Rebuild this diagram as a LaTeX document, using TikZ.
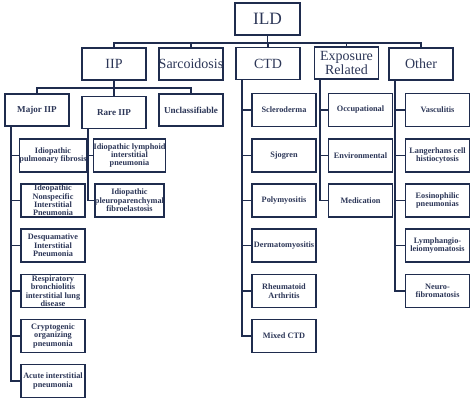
\documentclass[tikz,border=0pt]{standalone}
\usepackage{fontspec}
\setmainfont{Liberation Serif}
\definecolor{navy}{HTML}{1F2C4E}
\definecolor{ink}{HTML}{2C3657}
\tikzstyle{edge} = [draw, navy, line width=1.3pt, -]
\tikzstyle{box} = [draw=navy, line width=1.3pt, text=ink, inner sep=0pt, align=center]
\tikzstyle{rootbox} = [box, minimum width=48.75pt, minimum height=24pt, font=\fontsize{13}{15}\selectfont]
\tikzstyle{groupbox} = [box, minimum width=48pt, minimum height=24pt, font=\fontsize{10.5}{11}\selectfont]
\tikzstyle{subbox} = [box, minimum width=48pt, minimum height=24pt, font=\bfseries\fontsize{6.8}{8}\selectfont]
\tikzstyle{leaf} = [box, minimum width=48pt, minimum height=24.75pt, font=\bfseries\fontsize{6.2}{6.3}\selectfont]
% the leaves, one list per parent
\def\majorKids{{(53,155.5)/ipf/Idiopathic\\pulmonary fibrosis}, {(53,200.5)/nsip/Ideopathic\\Nonspecific\\Interstitial\\Pneumonia}, {(53,245.5)/dip/Desquamative\\Interstitial\\Pneumonia}, {(53,291)/rbild/Respiratory\\bronchiolitis\\interstitial lung\\disease}, {(53,336)/cop/Cryptogenic\\organizing\\pneumonia}, {(53,381)/aip/Acute interstitial\\pneumonia}}
\def\rareKids{{(129.5,155.5)/lip/Idiopathic lymphoid\\interstitial\\pneumonia}, {(129.5,200.5)/ppfe/Idiopathic\\pleuroparenchymal\\fibroelastosis}}
\def\ctdKids{{(284,110)/scl/Scleroderma}, {(284,155.5)/sjo/Sjogren}, {(284,200.5)/poly/Polymyositis}, {(284,245.5)/derm/Dermatomyositis}, {(284,291)/ra/Rheumatoid\\Arthritis}, {(284,336)/mctd/Mixed CTD}}
\def\expoKids{{(360.5,110)/occ/Occupational}, {(360.5,155.5)/env/Environmental}, {(360.5,200.5)/med/Medication}}
\def\otherKids{{(437.5,110)/vasc/Vasculitis}, {(437.5,155.5)/lch/Langerhans cell\\histiocytosis}, {(437.5,200.5)/eos/Eosinophilic\\pneumonias}, {(437.5,245.5)/lam/Lymphangio-\\leiomyomatosis}, {(437.5,291)/nf/Neuro-\\fibromatosis}}

\begin{document}
\begin{tikzpicture}[x=0.75pt, y=-0.75pt]
  \useasboundingbox (0,0) rectangle (474,403);

  % The root and the five groups
  \node[rootbox] (ild) at (267.5,19) {ILD};
  \foreach \pos/\name/\txt in {{(114,64)/iip/IIP}, {(191,64)/sarc/Sarcoidosis}, {(268,63.5)/ctd/CTD}, {(346.5,63)/expo/Exposure\\Related}, {(421,64)/other/Other}} {
    \node[groupbox] (\name) at \pos {\txt};
  }

  % The three kinds of IIP
  \foreach \pos/\name/\txt in {{(37,110)/major/Major IIP}, {(114,112.5)/rare/Rare IIP}, {(191,110)/uncl/Unclassifiable}} {
    \node[subbox] (\name) at \pos {\txt};
  }

  % The leaves
  \foreach \pos/\name/\txt in \majorKids
    \node[leaf] (\name) at \pos {\txt};
  \foreach \pos/\name/\txt in \rareKids
    \node[leaf] (\name) at \pos {\txt};
  \foreach \pos/\name/\txt in \ctdKids
    \node[leaf] (\name) at \pos {\txt};
  \foreach \pos/\name/\txt in \expoKids
    \node[leaf] (\name) at \pos {\txt};
  \foreach \pos/\name/\txt in \otherKids
    \node[leaf] (\name) at \pos {\txt};

  % Buses from the root and from IIP
  \foreach \dest in {iip, sarc, ctd, expo, other}
    \path[edge] (ild.south) -- ++(0,7) -| (\dest.north);
  \foreach \dest in {major, rare, uncl}
    \path[edge] (iip.south) -- ++(0,7) -| (\dest.north);

  % Trunks down the left side of each parent
  \foreach \source/\sink in {major/ipf, major/nsip, major/dip, major/rbild, major/cop, major/aip, rare/lip, rare/ppfe, ctd/scl, ctd/sjo, ctd/poly, ctd/derm, ctd/ra, ctd/mctd, expo/occ, expo/env, expo/med, other/vasc, other/lch, other/eos, other/lam, other/nf}
    \path[edge] (\source.south west) ++(6.5,0) |- (\sink.west);

\end{tikzpicture}
\end{document}
